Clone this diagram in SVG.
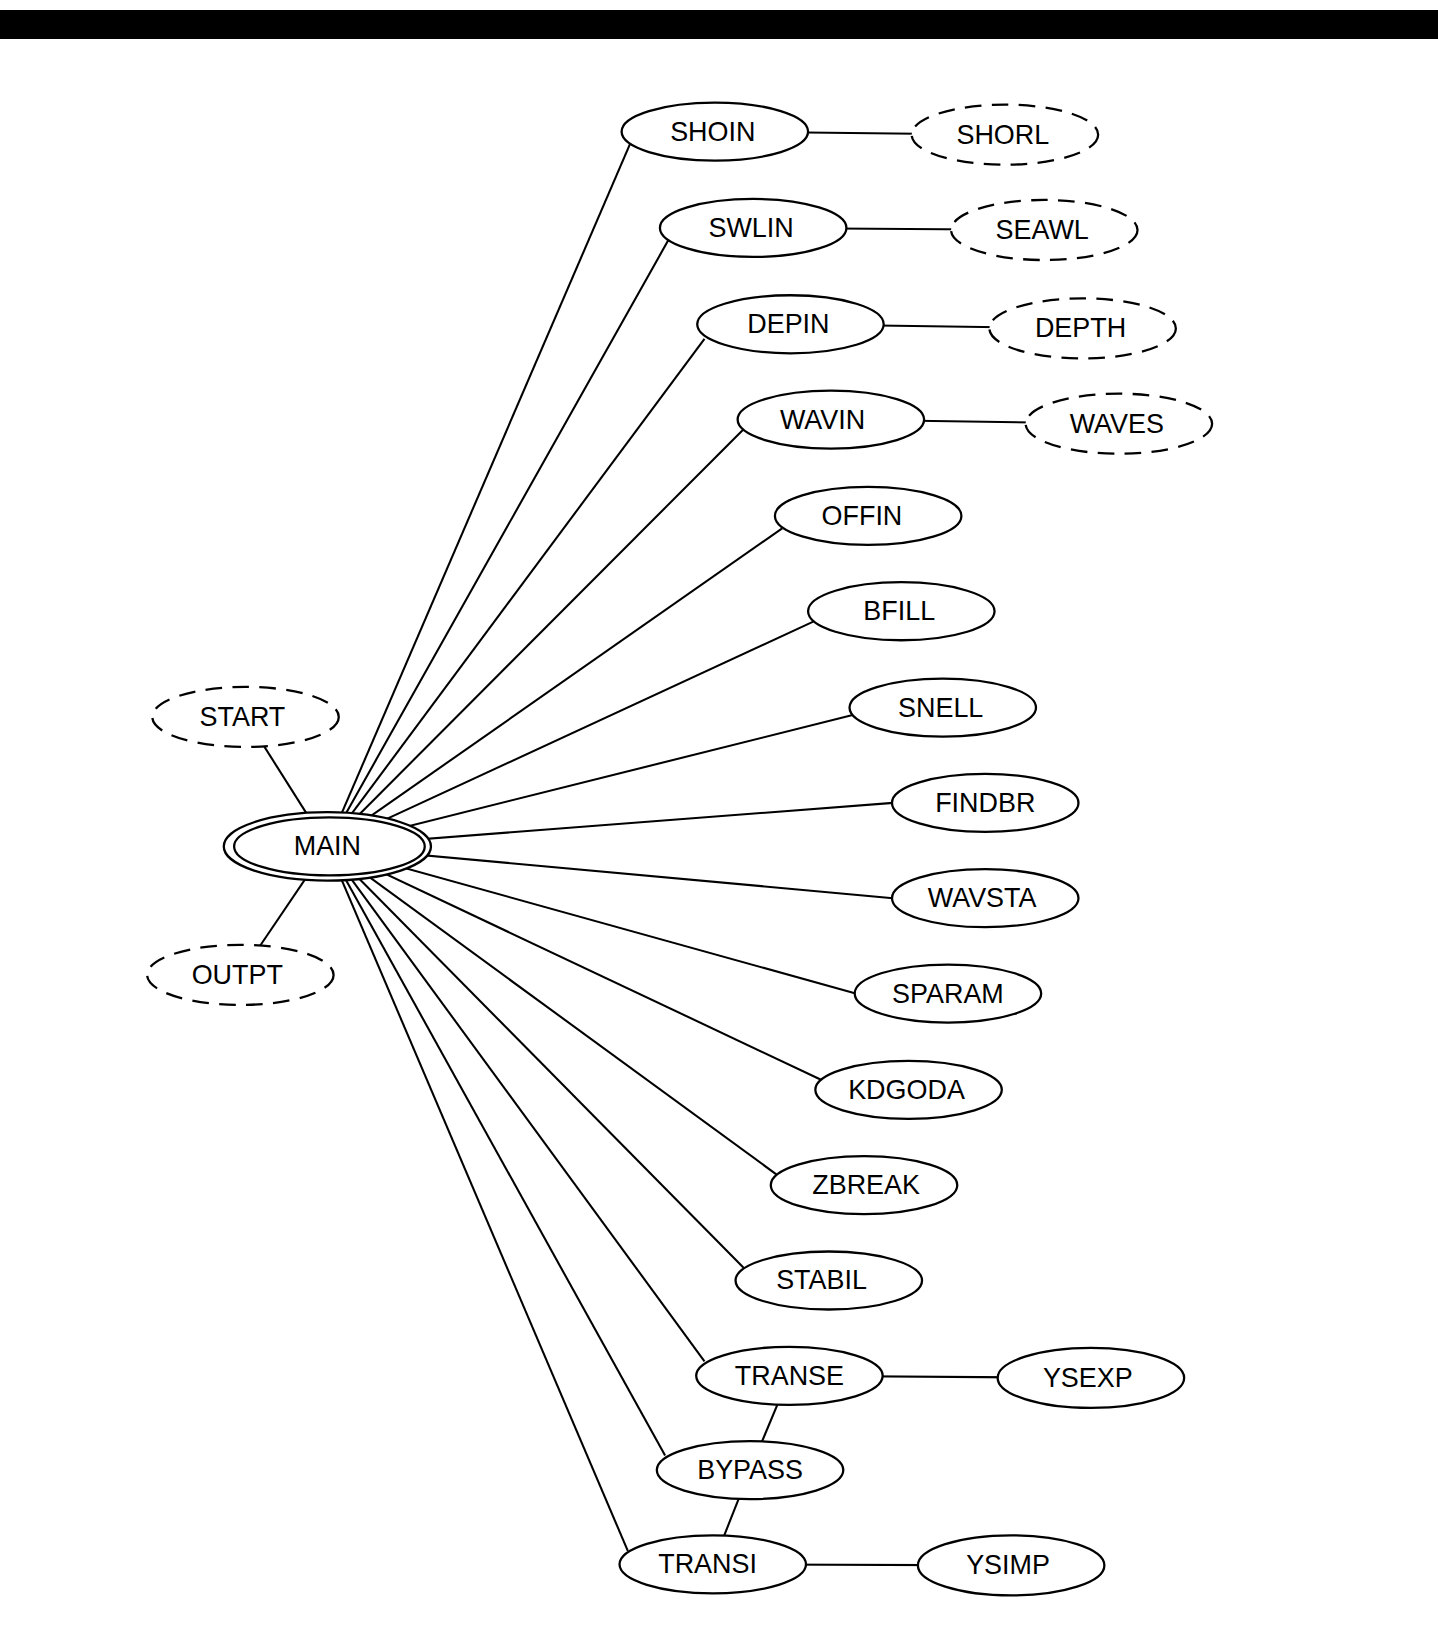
<svg xmlns="http://www.w3.org/2000/svg" width="1438" height="1625" viewBox="0 0 1438 1625">
<style>
.n ellipse{fill:#fff;stroke:#000;stroke-width:2.2}
.d ellipse{stroke-dasharray:16 10}
text{font-family:"Liberation Sans",Arial,sans-serif;font-size:26px;text-anchor:middle;dominant-baseline:central;fill:#000}
#edges line{stroke:#000;stroke-width:2}
</style>
<rect x="0" y="10" width="1438" height="29" fill="#000"/>
<g transform="scale(1.036)">
<g id="edges">
<line x1="316" y1="817" x2="609" y2="137"/>
<line x1="316" y1="817" x2="645" y2="232"/>
<line x1="316" y1="817" x2="680" y2="327"/>
<line x1="316" y1="817" x2="718" y2="414"/>
<line x1="316" y1="817" x2="755" y2="510"/>
<line x1="316" y1="817" x2="785" y2="600"/>
<line x1="316" y1="817" x2="824" y2="690"/>
<line x1="316" y1="817" x2="862" y2="775"/>
<line x1="316" y1="817" x2="862" y2="867"/>
<line x1="316" y1="817" x2="826" y2="959"/>
<line x1="316" y1="817" x2="792" y2="1042"/>
<line x1="316" y1="817" x2="750" y2="1134"/>
<line x1="316" y1="817" x2="718" y2="1224"/>
<line x1="316" y1="817" x2="680" y2="1314"/>
<line x1="316" y1="817" x2="642" y2="1405"/>
<line x1="316" y1="817" x2="606" y2="1497"/>
<line x1="316" y1="817" x2="237" y2="692"/>
<line x1="316" y1="817" x2="232" y2="941"/>
<line x1="690" y1="127" x2="970" y2="130"/>
<line x1="727" y1="220" x2="1008" y2="222"/>
<line x1="763" y1="313" x2="1045" y2="317"/>
<line x1="802" y1="405" x2="1080" y2="409"/>
<line x1="762" y1="1328" x2="1053" y2="1330"/>
<line x1="688" y1="1510" x2="976" y2="1511"/>
<line x1="762" y1="1328" x2="724" y2="1419"/>
<line x1="724" y1="1419" x2="688" y2="1510"/>
</g>
<g id="MAIN" class="n"><ellipse cx="316" cy="817" rx="100" ry="33"/><ellipse cx="318" cy="817" rx="92" ry="28"/><text x="316" y="817">MAIN</text></g>
<g id="START" class="n d"><ellipse cx="237" cy="692" rx="90" ry="29"/><text x="234" y="692">START</text></g>
<g id="OUTPT" class="n d"><ellipse cx="232" cy="941" rx="90" ry="29"/><text x="229" y="941">OUTPT</text></g>
<g id="SHOIN" class="n"><ellipse cx="690" cy="127" rx="90" ry="28"/><text x="688" y="127">SHOIN</text></g>
<g id="SHORL" class="n d"><ellipse cx="970" cy="130" rx="90" ry="29"/><text x="968" y="130">SHORL</text></g>
<g id="SWLIN" class="n"><ellipse cx="727" cy="220" rx="90" ry="28"/><text x="725" y="220">SWLIN</text></g>
<g id="SEAWL" class="n d"><ellipse cx="1008" cy="222" rx="90" ry="29"/><text x="1006" y="222">SEAWL</text></g>
<g id="DEPIN" class="n"><ellipse cx="763" cy="313" rx="90" ry="28"/><text x="761" y="313">DEPIN</text></g>
<g id="DEPTH" class="n d"><ellipse cx="1045" cy="317" rx="90" ry="29"/><text x="1043" y="317">DEPTH</text></g>
<g id="WAVIN" class="n"><ellipse cx="802" cy="405" rx="90" ry="28"/><text x="794" y="405">WAVIN</text></g>
<g id="WAVES" class="n d"><ellipse cx="1080" cy="409" rx="90" ry="29"/><text x="1078" y="409">WAVES</text></g>
<g id="OFFIN" class="n"><ellipse cx="838" cy="498" rx="90" ry="28"/><text x="832" y="498">OFFIN</text></g>
<g id="BFILL" class="n"><ellipse cx="870" cy="590" rx="90" ry="28"/><text x="868" y="590">BFILL</text></g>
<g id="SNELL" class="n"><ellipse cx="910" cy="683" rx="90" ry="28"/><text x="908" y="683">SNELL</text></g>
<g id="FINDBR" class="n"><ellipse cx="951" cy="775" rx="90" ry="28"/><text x="951" y="775">FINDBR</text></g>
<g id="WAVSTA" class="n"><ellipse cx="951" cy="867" rx="90" ry="28"/><text x="948" y="867">WAVSTA</text></g>
<g id="SPARAM" class="n"><ellipse cx="915" cy="959" rx="90" ry="28"/><text x="915" y="959">SPARAM</text></g>
<g id="KDGODA" class="n"><ellipse cx="877" cy="1052" rx="90" ry="28"/><text x="875" y="1052">KDGODA</text></g>
<g id="ZBREAK" class="n"><ellipse cx="834" cy="1144" rx="90" ry="28"/><text x="836" y="1144">ZBREAK</text></g>
<g id="STABIL" class="n"><ellipse cx="800" cy="1236" rx="90" ry="28"/><text x="793" y="1236">STABIL</text></g>
<g id="TRANSE" class="n"><ellipse cx="762" cy="1328" rx="90" ry="28"/><text x="762" y="1328">TRANSE</text></g>
<g id="YSEXP" class="n"><ellipse cx="1053" cy="1330" rx="90" ry="29"/><text x="1050" y="1330">YSEXP</text></g>
<g id="BYPASS" class="n"><ellipse cx="724" cy="1419" rx="90" ry="28"/><text x="724" y="1419">BYPASS</text></g>
<g id="TRANSI" class="n"><ellipse cx="688" cy="1510" rx="90" ry="28"/><text x="683" y="1510">TRANSI</text></g>
<g id="YSIMP" class="n"><ellipse cx="976" cy="1511" rx="90" ry="29"/><text x="973" y="1511">YSIMP</text></g>
</g>
</svg>
